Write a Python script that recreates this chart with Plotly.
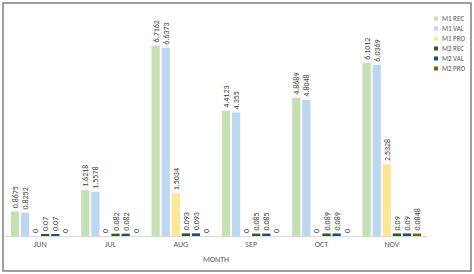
import plotly.graph_objects as go

months = ["JUN", "JUL", "AUG", "SEP", "OCT", "NOV"]
series_names = ["M1 REC", "M1 VAL", "M1 PRO", "M2 REC", "M2 VAL", "M2 PRO"]
m1_rec = [0.8675, 1.6218, 6.7162, 4.4123, 4.8689, 6.1012]
m1_val = [0.8252, 1.5578, 6.6373, 4.355, 4.8048, 6.0369]
m1_pro = [0, 0, 1.5034, 0, 0, 2.5328]
m2_rec = [0.07, 0.082, 0.093, 0.085, 0.089, 0.09]
m2_val = [0.07, 0.082, 0.093, 0.085, 0.089, 0.09]
m2_pro = [0, 0, 0, 0, 0, 0.0848]
colors = ["#c5e0b4", "#bdd7ee", "#ffe699", "#375623", "#1f4e79", "#7f6000"]

series = [m1_rec, m1_val, m1_pro, m2_rec, m2_val, m2_pro]
font_family = "Carlito, Liberation Sans Narrow, Liberation Sans, Arial"

W, H = 474, 274
ML, MR, MT, MB = 5, 47, 9, 38
PW, PH = W - ML - MR, H - MT - MB


def px_x(px):
    return (px - ML) / PW


def px_y(py):
    return (H - MB - py) / PH


fig = go.Figure()
for name, vals, col in zip(series_names, series, colors):
    fig.add_trace(go.Bar(
        name=name, x=months, y=vals, marker=dict(color=col, line=dict(width=0)),
        text=[f"{v:g}" for v in vals], textposition="outside", textangle=-90,
        constraintext="none", cliponaxis=False, showlegend=False,
        textfont=dict(size=8, color="#404040", family=font_family),
    ))

# legend built as shapes + annotations
shapes = [dict(type="rect", xref="paper", yref="paper", x0=px_x(3), x1=px_x(471),
               y0=px_y(271), y1=px_y(3), line=dict(color="#808080", width=1.5),
               fillcolor="rgba(0,0,0,0)", layer="below")]
annotations = []
for i, (name, col) in enumerate(zip(series_names, colors)):
    cy = 18.5 + 10 * i
    shapes.append(dict(type="rect", xref="paper", yref="paper", x0=px_x(434), x1=px_x(438),
                       y0=px_y(cy + 2), y1=px_y(cy - 2), line=dict(width=0), fillcolor=col))
    annotations.append(dict(text=name, xref="paper", yref="paper", x=px_x(440), y=px_y(cy),
                            xanchor="left", yanchor="middle", showarrow=False,
                            font=dict(size=7, color="#595959", family=font_family)))

fig.update_layout(
    width=W, height=H, barmode="group", bargap=0.14, bargroupgap=0.18,
    margin=dict(l=ML, r=MR, t=MT, b=MB),
    paper_bgcolor="white", plot_bgcolor="white",
    font=dict(family=font_family, color="#595959", size=8),
    xaxis=dict(showline=True, linecolor="#d9d9d9", linewidth=1, ticks="",
               title=dict(text="MONTH", font=dict(size=8, color="#595959"), standoff=8),
               tickfont=dict(size=8, color="#595959")),
    yaxis=dict(range=[0, 8], showgrid=False, showticklabels=False, zeroline=False, showline=False),
    showlegend=False,
    shapes=shapes,
    annotations=annotations,
)

fig.write_html("out.html")
